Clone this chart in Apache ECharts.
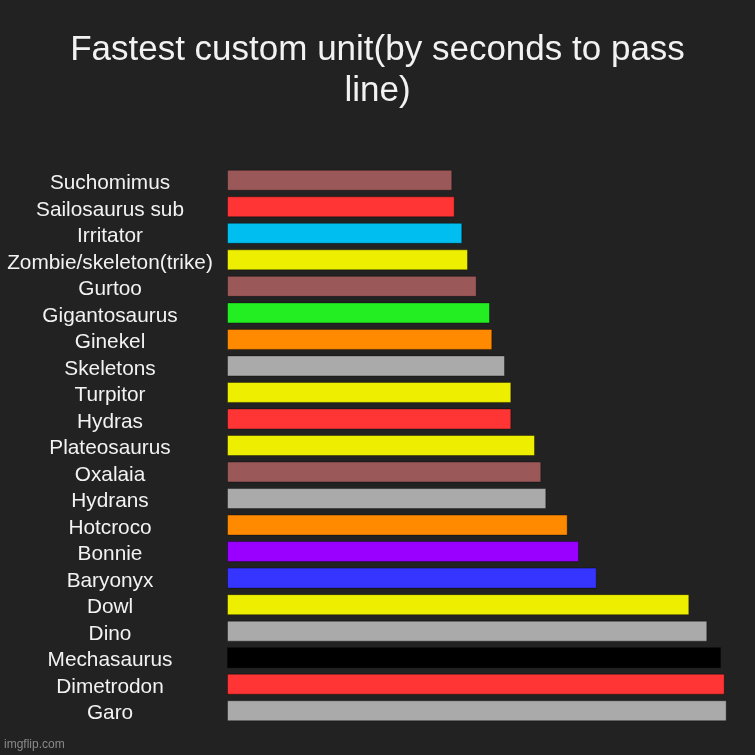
<!DOCTYPE html>
<html><head><meta charset="utf-8">
<script src="https://cdn.jsdelivr.net/npm/echarts@6/dist/echarts.min.js"></script>
<style>html,body{margin:0;padding:0;background:#222222;}#c{width:755px;height:755px;}</style>
</head><body><div id="c"></div>
<script>
const categories = ["Suchomimus","Sailosaurus sub","Irritator","Zombie/skeleton(trike)","Gurtoo","Gigantosaurus","Ginekel","Skeletons","Turpitor","Hydras","Plateosaurus","Oxalaia","Hydrans","Hotcroco","Bonnie","Baryonyx","Dowl","Dino","Mechasaurus","Dimetrodon","Garo"];
const values = [225.3,227.7,235.3,241,249.7,263,265.3,278,284.3,284.3,308,314.3,319.3,340.7,352,369.7,462.3,480.3,494,497.7,499.7];
const colors = ["#9b5858","#ff3535","#00bef0","#eeee00","#9b5858","#22ee22","#ff8a00","#aaaaaa","#eeee00","#ff3535","#eeee00","#9b5858","#aaaaaa","#ff8a00","#9900ff","#3535ff","#eeee00","#aaaaaa","#000000","#ff3535","#aaaaaa"];
const chart = echarts.init(document.getElementById('c'));
chart.setOption({
  backgroundColor: '#222222',
  animation: false,
  title: {
    text: 'Fastest custom unit(by seconds to pass\nline)',
    left: 'center', top: 25,
    textStyle: {color: '#f2f2f2', fontSize: 35, fontWeight: 'normal', fontFamily: 'Liberation Sans, Arial', lineHeight: 41}
  },
  graphic: [{type: 'text', left: 4, top: 739, style: {text: 'imgflip.com', fill: '#8a8a8a', font: '12px Liberation Sans, Arial'}}],
  grid: {left: 227, right: 28, top: 167, bottom: 31},
  xAxis: {type: 'value', min: 0, max: 500, show: false},
  yAxis: {
    type: 'category', data: categories, inverse: true,
    axisLine: {show: false}, axisTick: {show: false},
    axisLabel: {
      interval: 0, align: 'center', margin: 117,
      formatter: '{a|{value}}',
      rich: {a: {color: '#f2f2f2', fontSize: 20.8, fontFamily: 'Liberation Sans, Arial', padding: [6, 0, 0, 0]}}
    }
  },
  series: [{
    type: 'bar', barWidth: 21,
    data: values.map((v, i) => ({value: v, itemStyle: {color: colors[i], borderColor: 'rgba(0,0,0,0.35)', borderWidth: 1}}))
  }]
});
</script></body></html>
